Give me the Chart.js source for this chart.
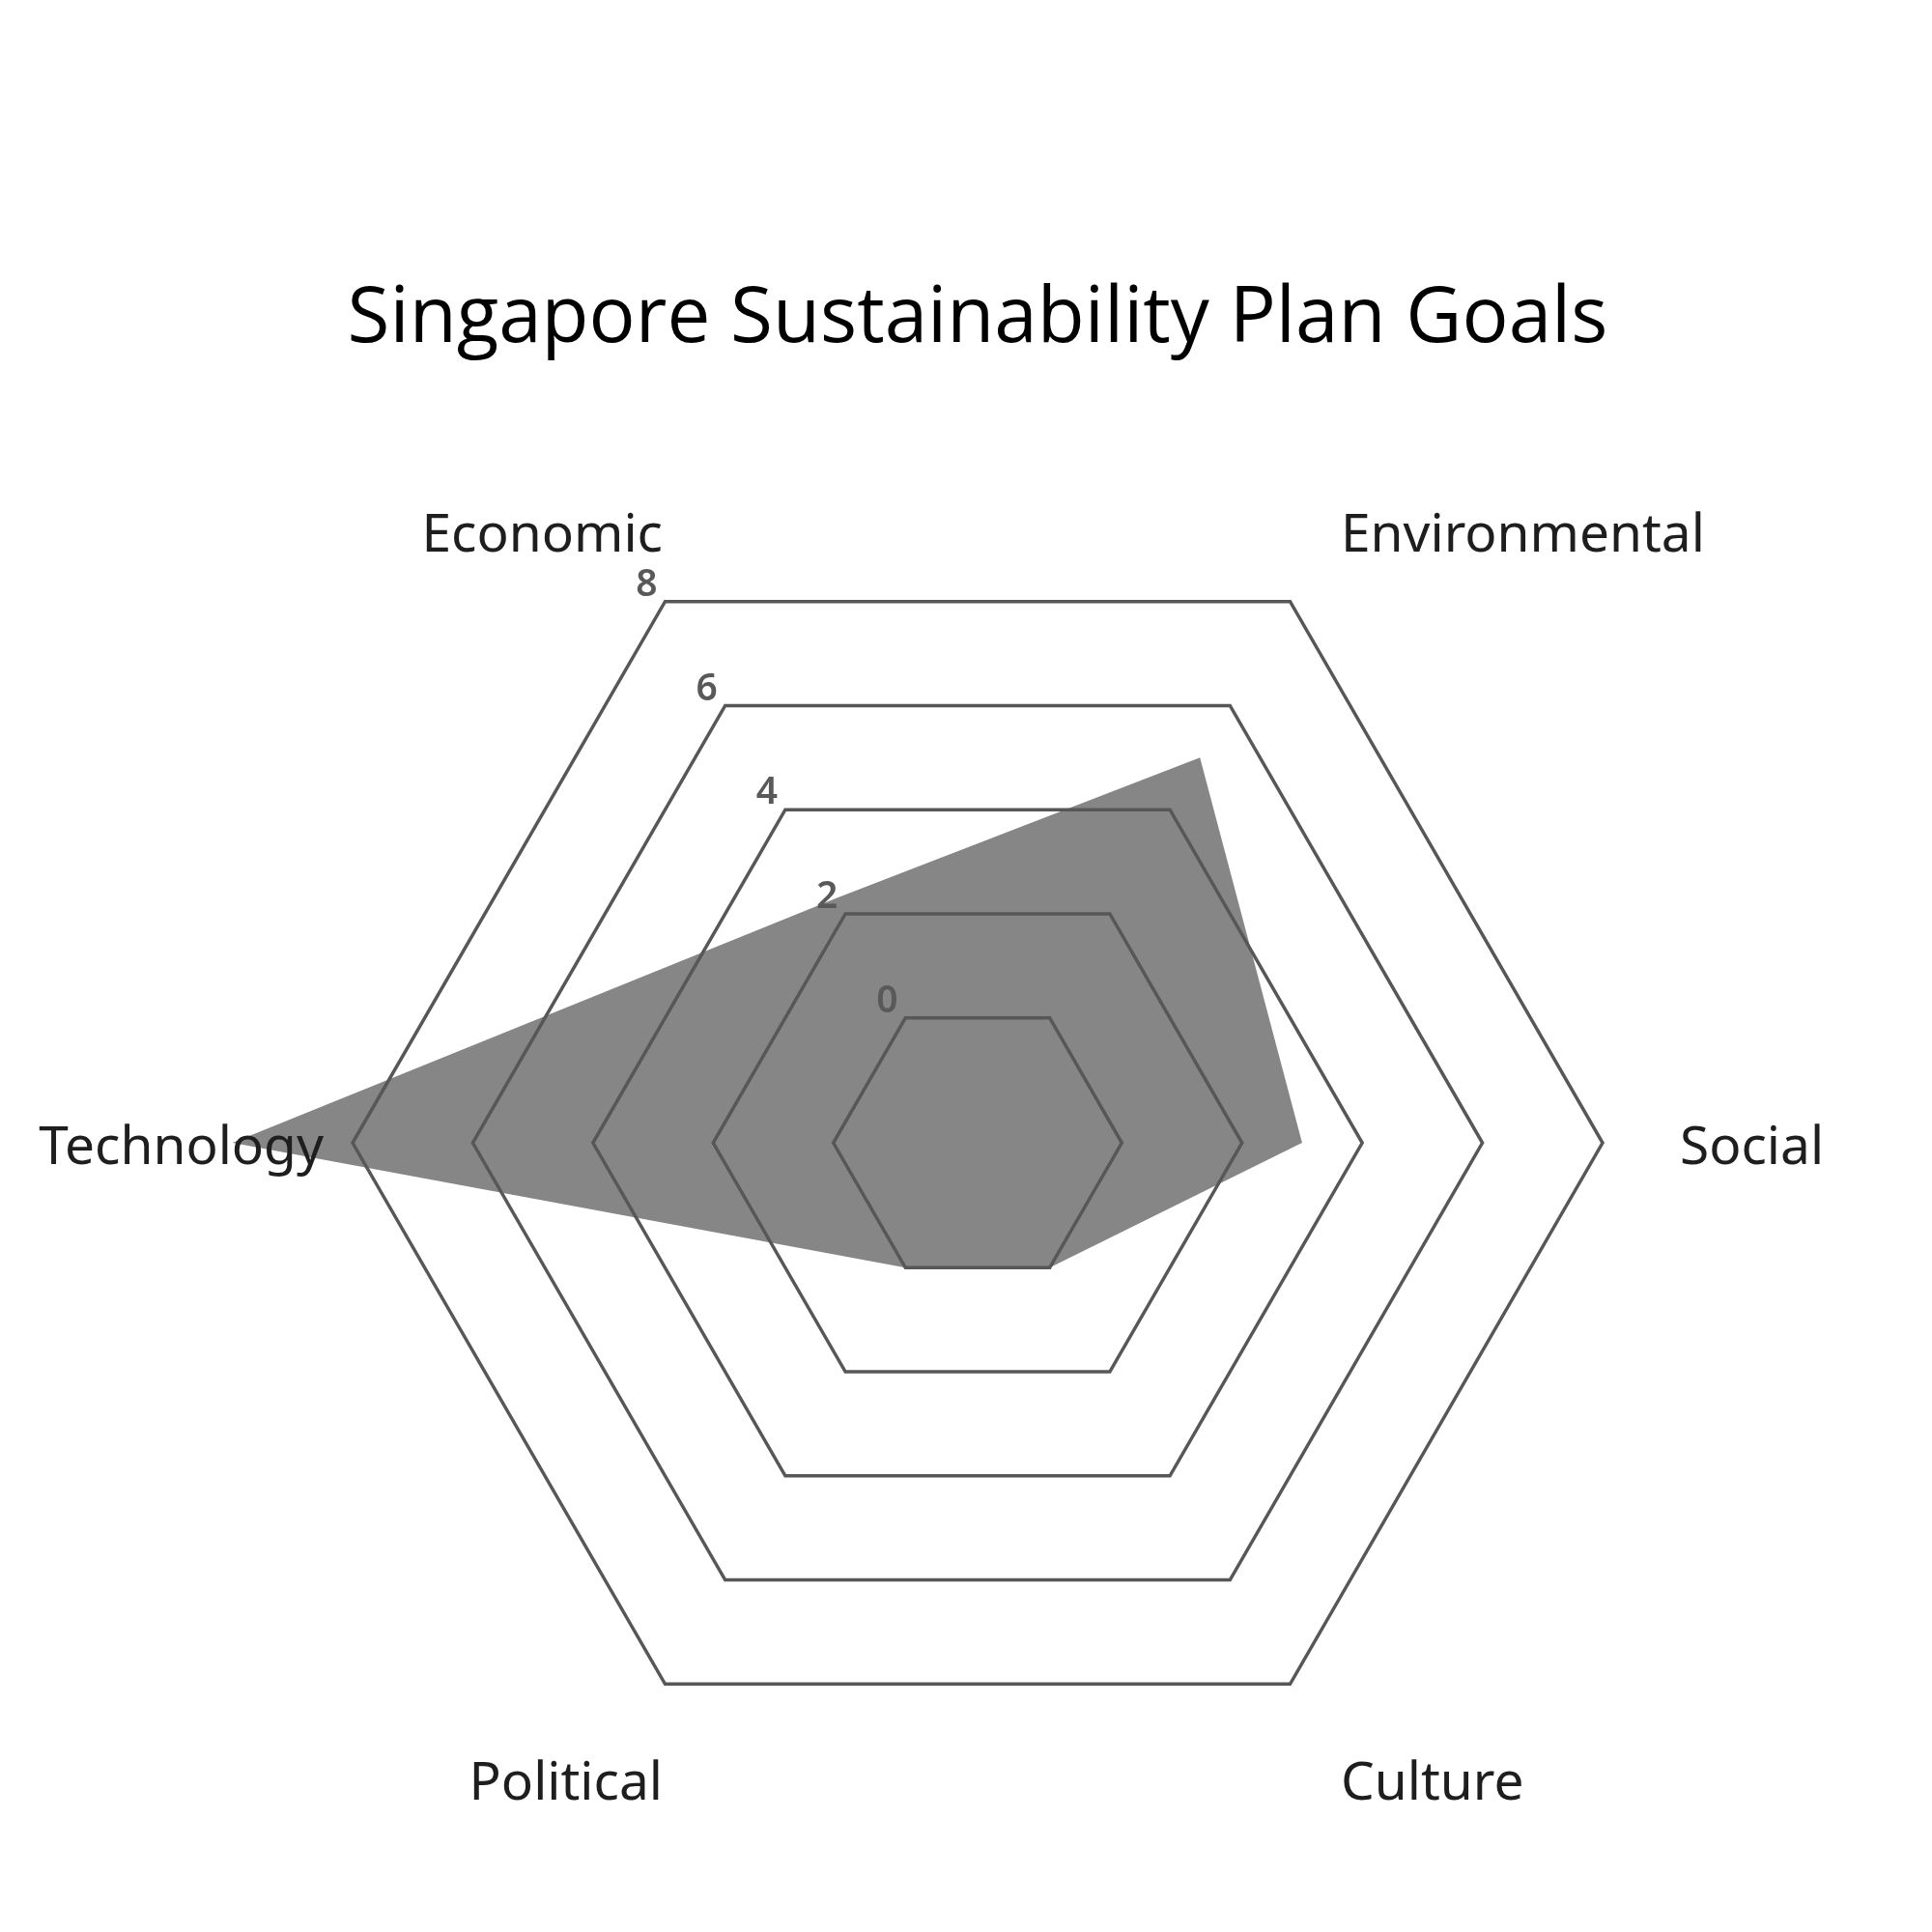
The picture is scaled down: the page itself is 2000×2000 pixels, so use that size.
<!DOCTYPE html>
<html lang="en">
<head>
<meta charset="utf-8">
<title>Singapore Sustainability Plan Goals</title>
<style>
  body { margin: 0; background: #fff; }
  .chartBox { width: 2000px; height: 2000px; }
</style>
</head>
<body>

<div class="chartBox">
  <canvas id="myChart"></canvas>
</div>

<script src="https://cdn.jsdelivr.net/npm/chart.js@4.4.1/dist/chart.umd.min.js"></script>
<script>
// data
const categories = ['Economic', 'Environmental', 'Social', 'Culture', 'Political', 'Technology'];
const goalScores = [2.3, 5, 3, 0, 0, 10];
const tickValues = [0, 2, 4, 6, 8];

// draws the upright tick numbers and the axis names on top of everything
const axisText = {
  id: 'axisText',
  afterDraw(chart) {
    const r = chart.scales.r;
    const ctx = chart.ctx;
    ctx.save();
    ctx.textAlign = 'center';
    ctx.textBaseline = 'middle';

    // tick numbers, just outside the Economic corner of each ring
    ctx.font = '600 39px "Noto Sans"';
    ctx.fillStyle = '#595959';
    r.ticks.forEach(t => {
      const p = r.getPointPositionForValue(0, t.value);
      ctx.fillText(String(t.value), p.x - 19, p.y - 17);
    });

    // category names, aligned by side (left half right-aligned, right half left-aligned)
    ctx.font = '55px "Noto Sans"';
    ctx.fillStyle = '#1e1e1e';
    chart.data.labels.forEach((name, i) => {
      const p = r.getPointPosition(i, r.drawingArea + 55);
      let deg = Math.round(((p.angle + Math.PI / 2) * 180 / Math.PI % 360 + 360) % 360);
      if (deg === 0 || deg === 180) ctx.textAlign = 'center';
      else if (deg < 180) ctx.textAlign = 'left';
      else ctx.textAlign = 'right';
      let y = p.y + 6;
      if (deg > 270 || deg < 90) y = p.y - 20;
      else if (deg > 90 && deg < 270) y = p.y + 56;
      ctx.fillText(name, p.x + 25, y);
    });
    ctx.restore();
  }
};

const ctx = document.getElementById('myChart');
const myChart = new Chart(ctx, {
  type: 'radar',
  data: {
    labels: categories,
    datasets: [{
      label: 'Goals',
      data: goalScores,
      backgroundColor: '#868686',
      borderWidth: 0,
      pointRadius: 0,
      fill: 'start',
      clip: false
    }]
  },
  options: {
    responsive: true,
    maintainAspectRatio: false,
    devicePixelRatio: 1,
    animation: false,
    layout: {
      // wide area so the Technology spike is not clipped, height sets the radius
      padding: { left: 24, right: 0, top: 0, bottom: 170 }
    },
    elements: { line: { tension: 0 } },
    scales: {
      r: {
        min: -2.4,
        max: 8,
        startAngle: -30,
        afterBuildTicks: scale => {
          scale.ticks = tickValues.map(v => ({ value: v }));
        },
        ticks: { display: false },
        pointLabels: { display: false },
        angleLines: { display: false },
        // rings go over the grey area
        grid: { color: '#575757', lineWidth: 3.5, z: 1 }
      }
    },
    plugins: {
      legend: { display: false },
      tooltip: { enabled: false },
      title: {
        display: true,
        text: 'Singapore Sustainability Plan Goals',
        color: '#000',
        font: { family: '"Open Sans"', size: 80, weight: 'normal', lineHeight: 1.2 },
        padding: { top: 283, bottom: 157 }
      }
    }
  },
  plugins: [axisText]
});
</script>
</body>
</html>
